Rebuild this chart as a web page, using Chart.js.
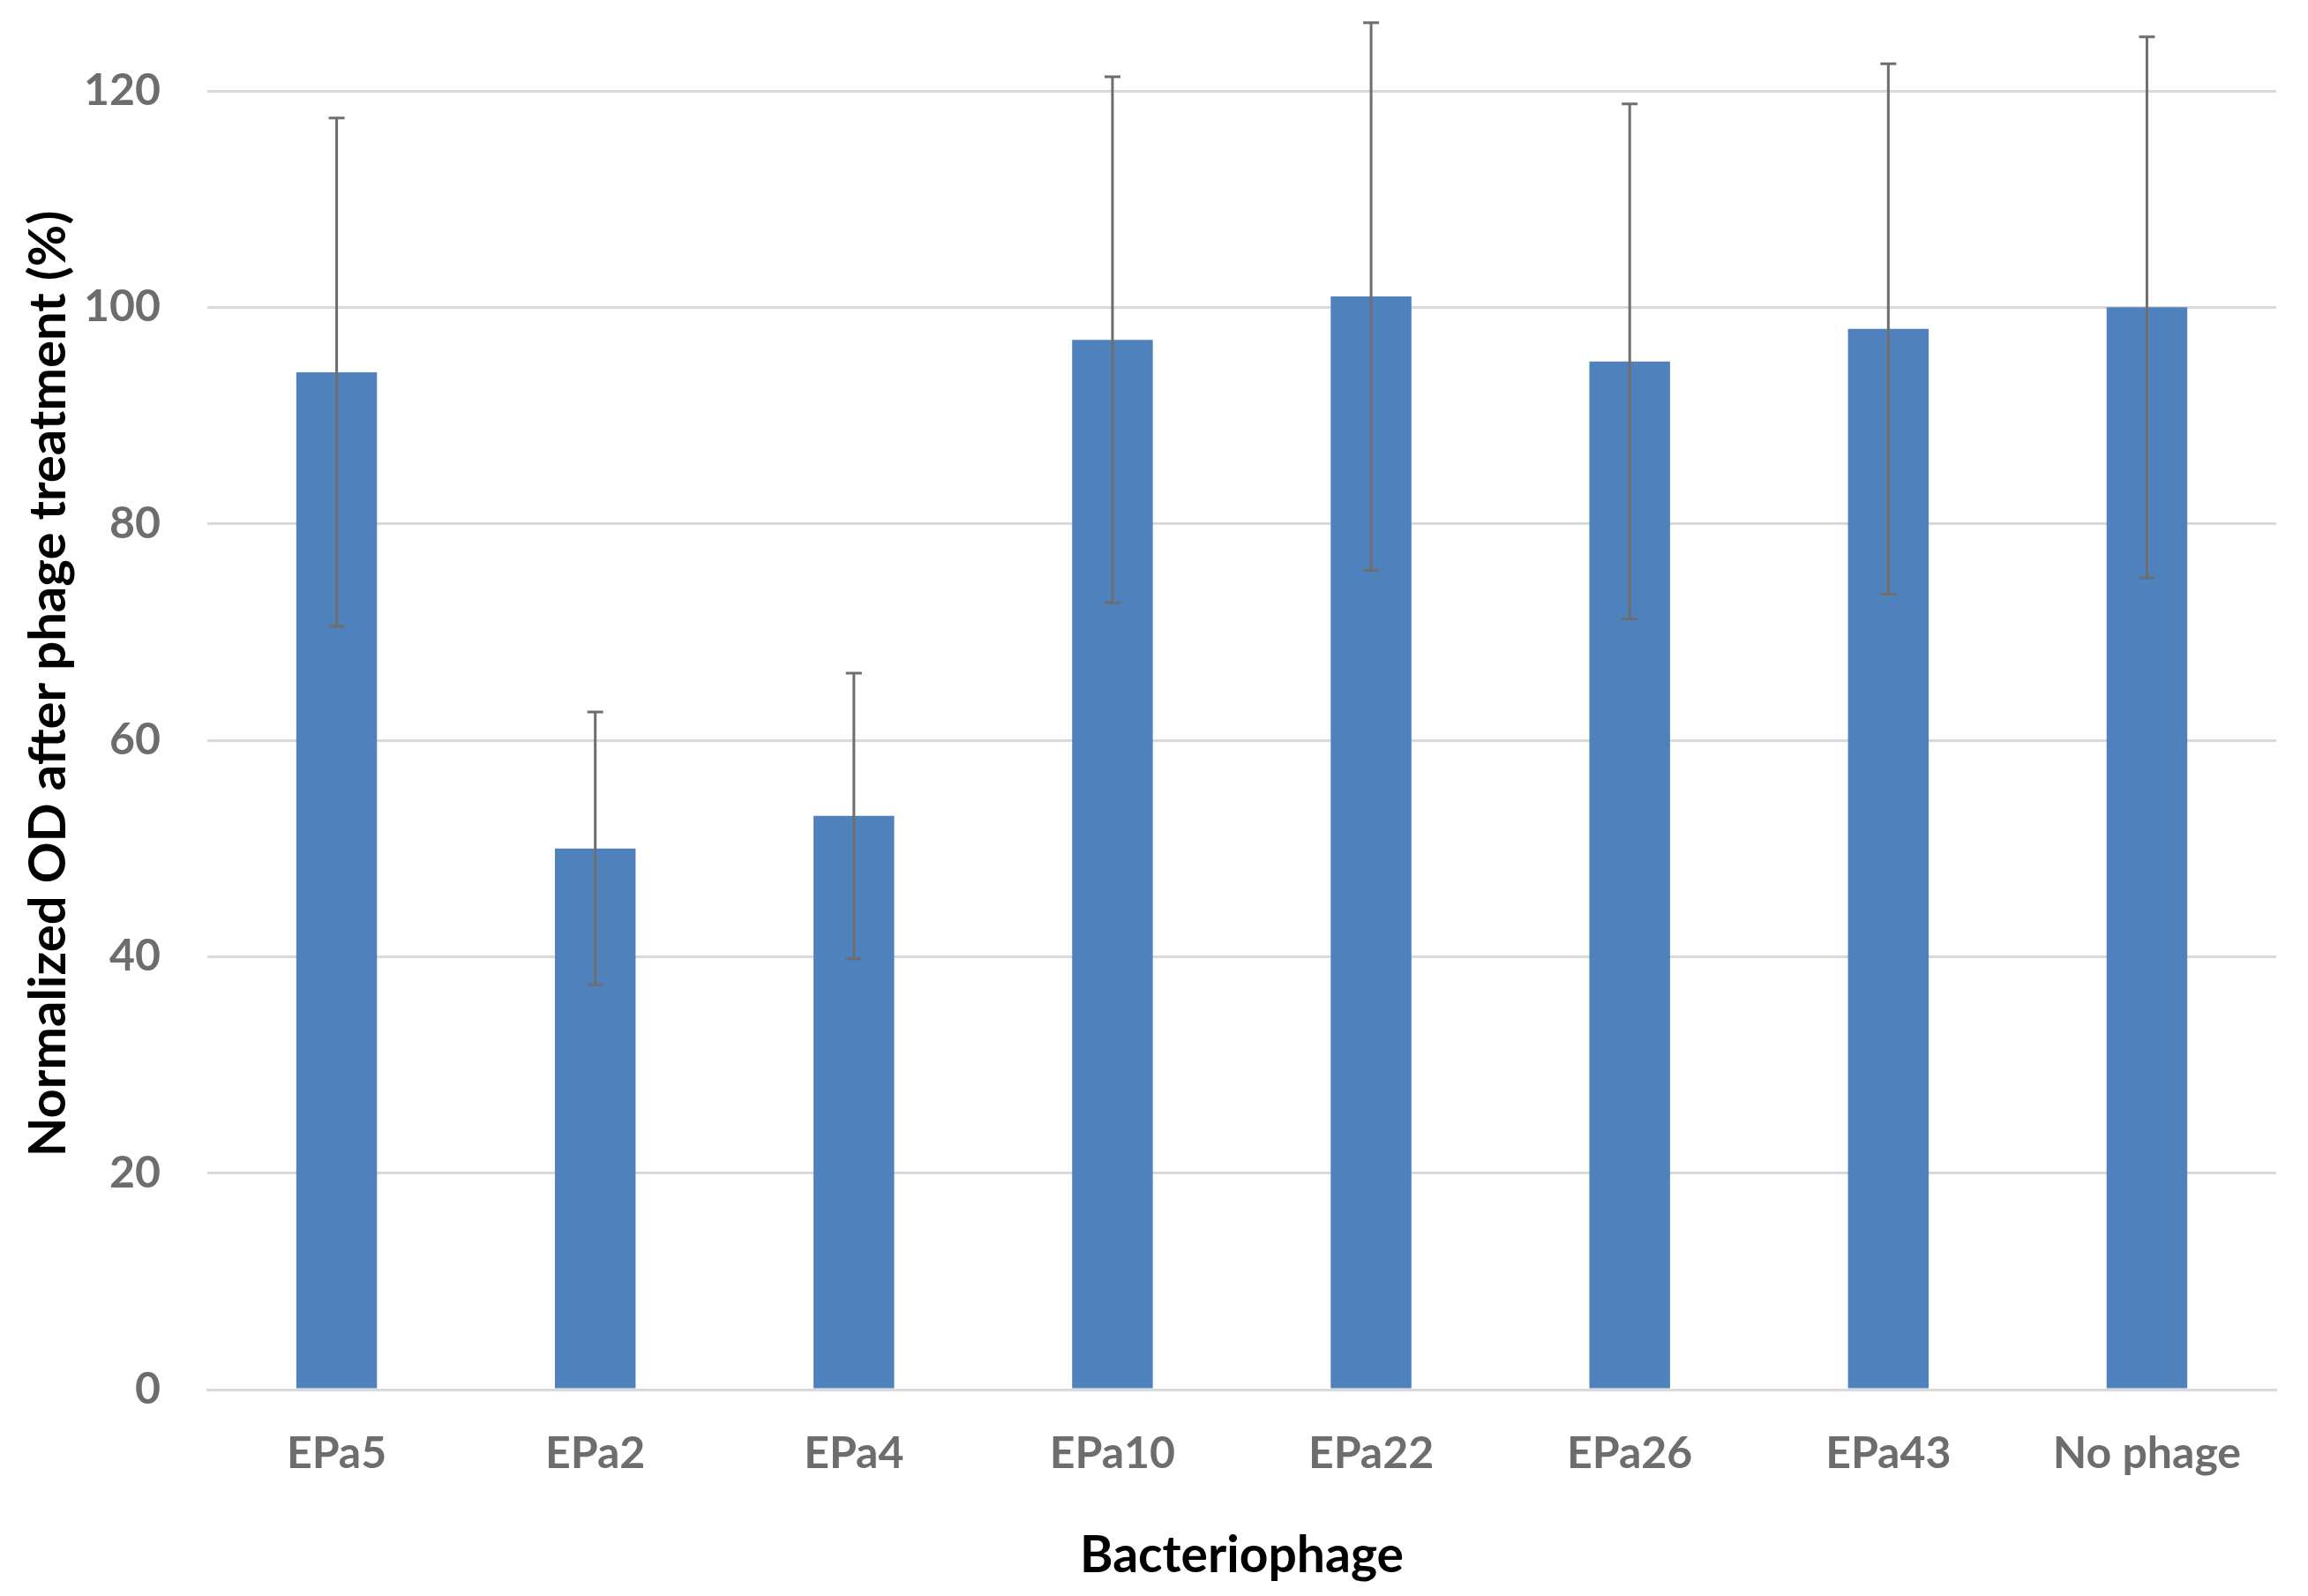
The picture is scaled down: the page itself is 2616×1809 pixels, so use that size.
<!DOCTYPE html>
<html>
<head>
<meta charset="utf-8">
<script src="https://cdn.jsdelivr.net/npm/chart.js@4.4.1/dist/chart.umd.min.js"></script>
<style>
  html, body { margin: 0; padding: 0; background: #ffffff; }
  #wrap { width: 2616px; height: 1809px; }
</style>
</head>
<body>
<div id="wrap"><canvas id="c" width="2616" height="1809" style="width:2616px;height:1809px"></canvas></div>
<script>
const categories = ['EPa5', 'EPa2', 'EPa4', 'EPa10', 'EPa22', 'EPa26', 'EPa43', 'No phage'];
const meanValues = [94, 50, 53, 97, 101, 95, 98, 100];
const errorValues = [23.5, 12.6, 13.2, 24.3, 25.3, 23.8, 24.5, 25];
const yTicks = [0, 20, 40, 60, 80, 100, 120];
const xTitle = 'Bacteriophage';
const yTitle = 'Normalized OD after phage treatment (%)';

const FONT = 'Lato, "Open Sans", "Noto Sans", sans-serif';

const errorBarPlugin = {
  id: 'errorBars',
  afterDatasetsDraw(chart) {
    const ctx = chart.ctx;
    const meta = chart.getDatasetMeta(0);
    const yScale = chart.scales.y;
    ctx.save();
    ctx.strokeStyle = '#6e6e6e';
    ctx.lineWidth = 3;
    meta.data.forEach((bar, i) => {
      const x = bar.x;
      const yTop = yScale.getPixelForValue(meanValues[i] + errorValues[i]);
      const yBot = yScale.getPixelForValue(meanValues[i] - errorValues[i]);
      const cap = 9;
      ctx.beginPath();
      ctx.moveTo(x, yTop); ctx.lineTo(x, yBot);
      ctx.moveTo(x - cap, yTop); ctx.lineTo(x + cap, yTop);
      ctx.moveTo(x - cap, yBot); ctx.lineTo(x + cap, yBot);
      ctx.stroke();
    });
    ctx.restore();
  }
};

const yTitlePlugin = {
  id: 'yTitle',
  afterDraw(chart) {
    const ctx = chart.ctx;
    ctx.save();
    ctx.translate(55, 775);
    ctx.rotate(-Math.PI / 2);
    ctx.font = 'bold 58px ' + FONT;
    ctx.fillStyle = '#000000';
    ctx.textAlign = 'center';
    ctx.textBaseline = 'middle';
    ctx.fillText(yTitle, 0, 0);
    ctx.restore();
  }
};

new Chart(document.getElementById('c'), {
  type: 'bar',
  data: {
    labels: categories,
    datasets: [{
      data: meanValues,
      backgroundColor: '#4f81bd',
      borderWidth: 0,
      categoryPercentage: 1.0,
      barPercentage: 0.312
    }]
  },
  options: {
    responsive: false,
    devicePixelRatio: 1,
    animation: false,
    layout: { padding: { top: 103, right: 36, bottom: 0, left: 0 } },
    plugins: {
      legend: { display: false },
      tooltip: { enabled: false },
      title: { display: false }
    },
    scales: {
      x: {
        grid: { display: false },
        border: { display: true, color: '#d9d9d9', width: 3 },
        ticks: {
          color: '#6d6d6d',
          font: { family: FONT, size: 50, weight: 'bold' },
          padding: 35,
          maxRotation: 0
        },
        title: {
          display: true,
          text: xTitle,
          color: '#000000',
          font: { family: FONT, size: 57, weight: 'bold' },
          padding: { top: 0, bottom: 11 }
        },
        afterFit(scale) { scale.height = 234; }
      },
      y: {
        min: 0,
        max: 120,
        afterBuildTicks(scale) { scale.ticks = yTicks.map(v => ({ value: v })); },
        grid: { color: '#d9d9d9', lineWidth: 3, drawTicks: false },
        border: { display: false },
        ticks: {
          color: '#6d6d6d',
          font: { family: FONT, size: 50, weight: 'bold' },
          padding: 53
        },
        afterFit(scale) { scale.width = 235; }
      }
    }
  },
  plugins: [errorBarPlugin, yTitlePlugin]
});
</script>
</body>
</html>
